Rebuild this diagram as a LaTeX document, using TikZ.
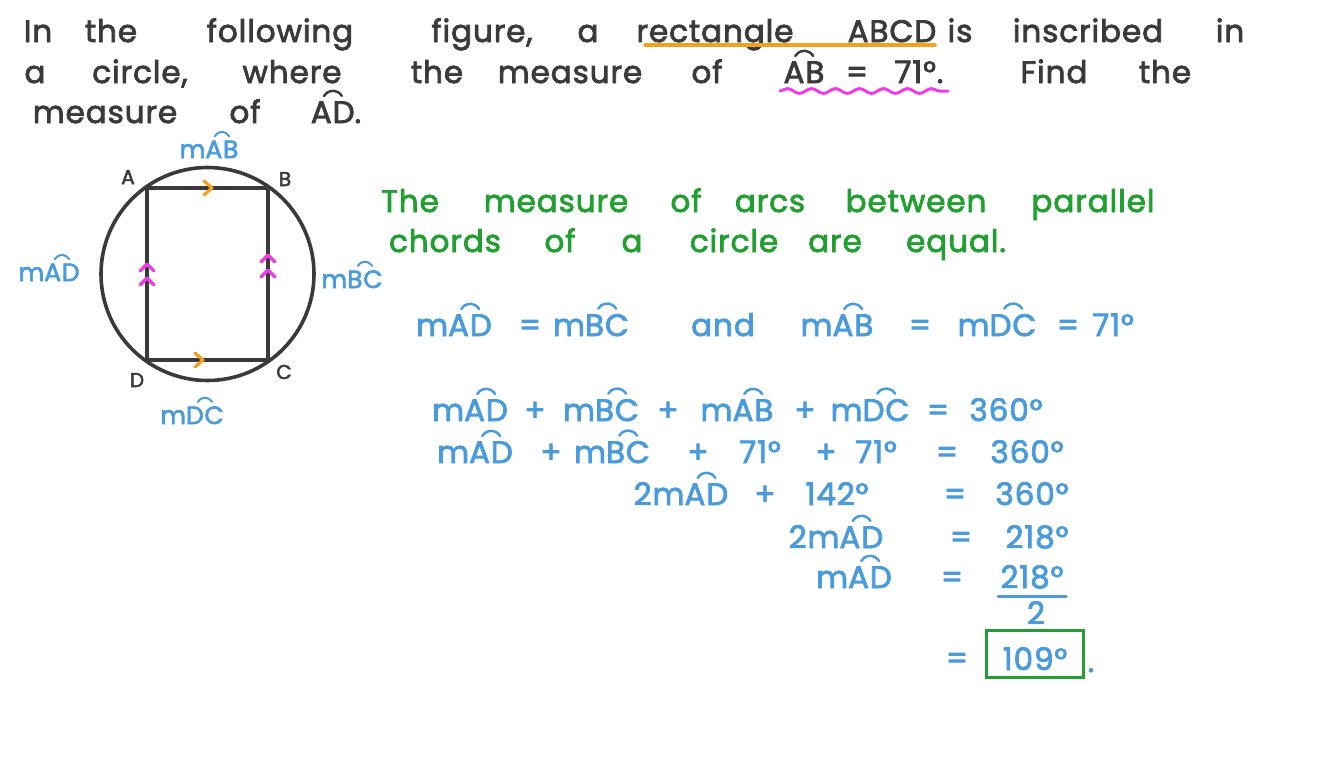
\documentclass[tikz,border=0pt]{standalone}
\usepackage{fontspec}
\setmainfont{Poppins}[FakeBold=2.5,LetterSpace=3]
\usetikzlibrary{decorations.pathmorphing}
\definecolor{ink}{HTML}{3A3A3A}
\definecolor{eqblue}{HTML}{4A9BDB}
\definecolor{grn}{HTML}{21A031}
\definecolor{org}{HTML}{F2A11C}
\definecolor{mag}{HTML}{EE3CE6}
\newcommand\arcw[1]{\tikz[baseline=(arcbox.base),x=1pt,y=1pt]{\node[inner sep=0pt,anchor=base](arcbox){#1};\draw[line width=0.08em,line cap=round] ([yshift=0.17em,xshift=-0.28em]arcbox.north) arc[start angle=150,end angle=30,radius=0.33em];}}
\begin{document}
\begin{tikzpicture}[x=1pt,y=-1pt,
  q/.style={anchor=base,inner sep=0pt,text=ink,font=\fontsize{31}{36}\selectfont},
  g/.style={q,text=grn},
  e/.style={q,text=eqblue},
  lbl/.style={anchor=base,inner sep=0pt,text=ink,font=\fontsize{20}{24}\selectfont},
  arcl/.style={anchor=base,inner sep=0pt,text=eqblue,font=\fontsize{25}{28}\selectfont},
  edge/.style={draw=ink,line width=3.6pt,line join=round},
  para/.style={line width=3.2pt,line cap=round,line join=round}]
\path[use as bounding box] (0,0) rectangle (1344,756);
% question text
\foreach \x/\w [count=\i] in {38/In, 111/the, 280/following, 482/{figure,}, 588/a, 715/rectangle, 892/ABCD, 960/is, 1088/inscribed, 1230/in}
  \node[q] (ta\i) at (\x,42) {\w};
\foreach \x/\w [count=\i] in {35/a, 140/{circle,}, 292/where, 437/the, 570/measure, 707/of, 804/{\arcw{AB}}, 857/=, 919/{71°.}, 1054/Find, 1165/the}
  \node[q] (tb\i) at (\x,83) {\w};
\foreach \x/\w [count=\i] in {105/measure, 245/of, 336/{\arcw{AD}.}}
  \node[q] (tc\i) at (\x,123) {\w};
\coordinate (ul1) at (645,45);
\coordinate (ul2) at (935,45);
\draw[org,line width=3.5pt,line cap=round] (ul1) -- (ul2);
\coordinate (wv1) at (780,91);
\coordinate (wv2) at (948,91);
\draw[mag,line width=3pt,line cap=round,decorate,decoration={snake,amplitude=2.4pt,segment length=24pt}] (wv1) -- (wv2);
% figure
\coordinate (O) at (207.5,274);
\coordinate (A) at (147,188);
\coordinate (B) at (268,188);
\coordinate (C) at (268,360);
\coordinate (D) at (147,360);
\draw[edge] (O) circle (106.5);
\draw[edge] (A) -- (B) -- (C) -- (D) -- cycle;
\node[lbl] (lA) at (128,184) {A};
\node[lbl] (lB) at (285,186) {B};
\node[lbl] (lC) at (284,379) {C};
\node[lbl] (lD) at (137,387) {D};
\node[arcl] (aAB) at (209,158) {m\arcw{AB}};
\node[arcl] (aAD) at (49,281) {m\arcw{AD}};
\node[arcl] (aBC) at (352,288) {m\arcw{BC}};
\node[arcl] (aDC) at (192,424) {m\arcw{DC}};
% parallel marks
\draw[para,org] (204,181) -- (212,188) -- (204,195);
\draw[para,org] (195,353) -- (203,360) -- (195,367);
\draw[para,mag] (140,271) -- (147,264) -- (154,271);
\draw[para,mag] (140,285) -- (147,278) -- (154,285);
\draw[para,mag] (261,262) -- (268,255) -- (275,262);
\draw[para,mag] (261,277) -- (268,270) -- (275,277);
% green statement
\foreach \x/\w [count=\i] in {410/The, 556/measure, 686/of, 770/arcs, 916/between, 1093/parallel}
  \node[g] (ga\i) at (\x,212) {\w};
\foreach \x/\w [count=\i] in {445/chords, 560/of, 632/a, 734/circle, 835/are, 956/{equal.}}
  \node[g] (gb\i) at (\x,252) {\w};
% equations
\foreach \x/\w [count=\i] in {454/{m\arcw{AD}}, 530/=, 591/{m\arcw{BC}}, 723/and, 837/{m\arcw{AB}}, 920/=, 997/{m\arcw{DC}}, 1068/=, 1113/71°}
  \node[e] (ea\i) at (\x,336) {\w};
\foreach \x/\w [count=\i] in {470/{m\arcw{AD}}, 535/+, 601/{m\arcw{BC}}, 668/+, 737/{m\arcw{AB}}, 805/+, 870/{m\arcw{DC}}, 938/=, 1006/360°}
  \node[e] (eb\i) at (\x,421) {\w};
\foreach \x/\w [count=\i] in {475/{m\arcw{AD}}, 551/+, 612/{m\arcw{BC}}, 698/+, 760/71°, 826/+, 876/71°, 947/=, 1027/360°}
  \node[e] (ec\i) at (\x,463) {\w};
\foreach \x/\w [count=\i] in {681/{2m\arcw{AD}}, 765/+, 837/142°, 955/=, 1032/360°}
  \node[e] (ed\i) at (\x,505) {\w};
\foreach \x/\w [count=\i] in {836/{2m\arcw{AD}}, 961/=, 1037/218°}
  \node[e] (ee\i) at (\x,548) {\w};
\foreach \x/\w [count=\i] in {854/{m\arcw{AD}}, 952/=, 1032/218°}
  \node[e] (ef\i) at (\x,588) {\w};
\coordinate (fr1) at (998,596);
\coordinate (fr2) at (1066,596);
\draw[eqblue,line width=3pt,line cap=round] (fr1) -- (fr2);
\node[e] (den) at (1036,624) {2};
\node[e] (eg1) at (957,669) {=};
\node[e] (ans) at (1035,670) {109°};
\node[draw=grn,line width=3.5pt,minimum width=97pt,minimum height=47pt,inner sep=0pt] (box) at (1035,654) {};
\node[e] (dot) at (1091,672) {.};
\end{tikzpicture}
\end{document}
